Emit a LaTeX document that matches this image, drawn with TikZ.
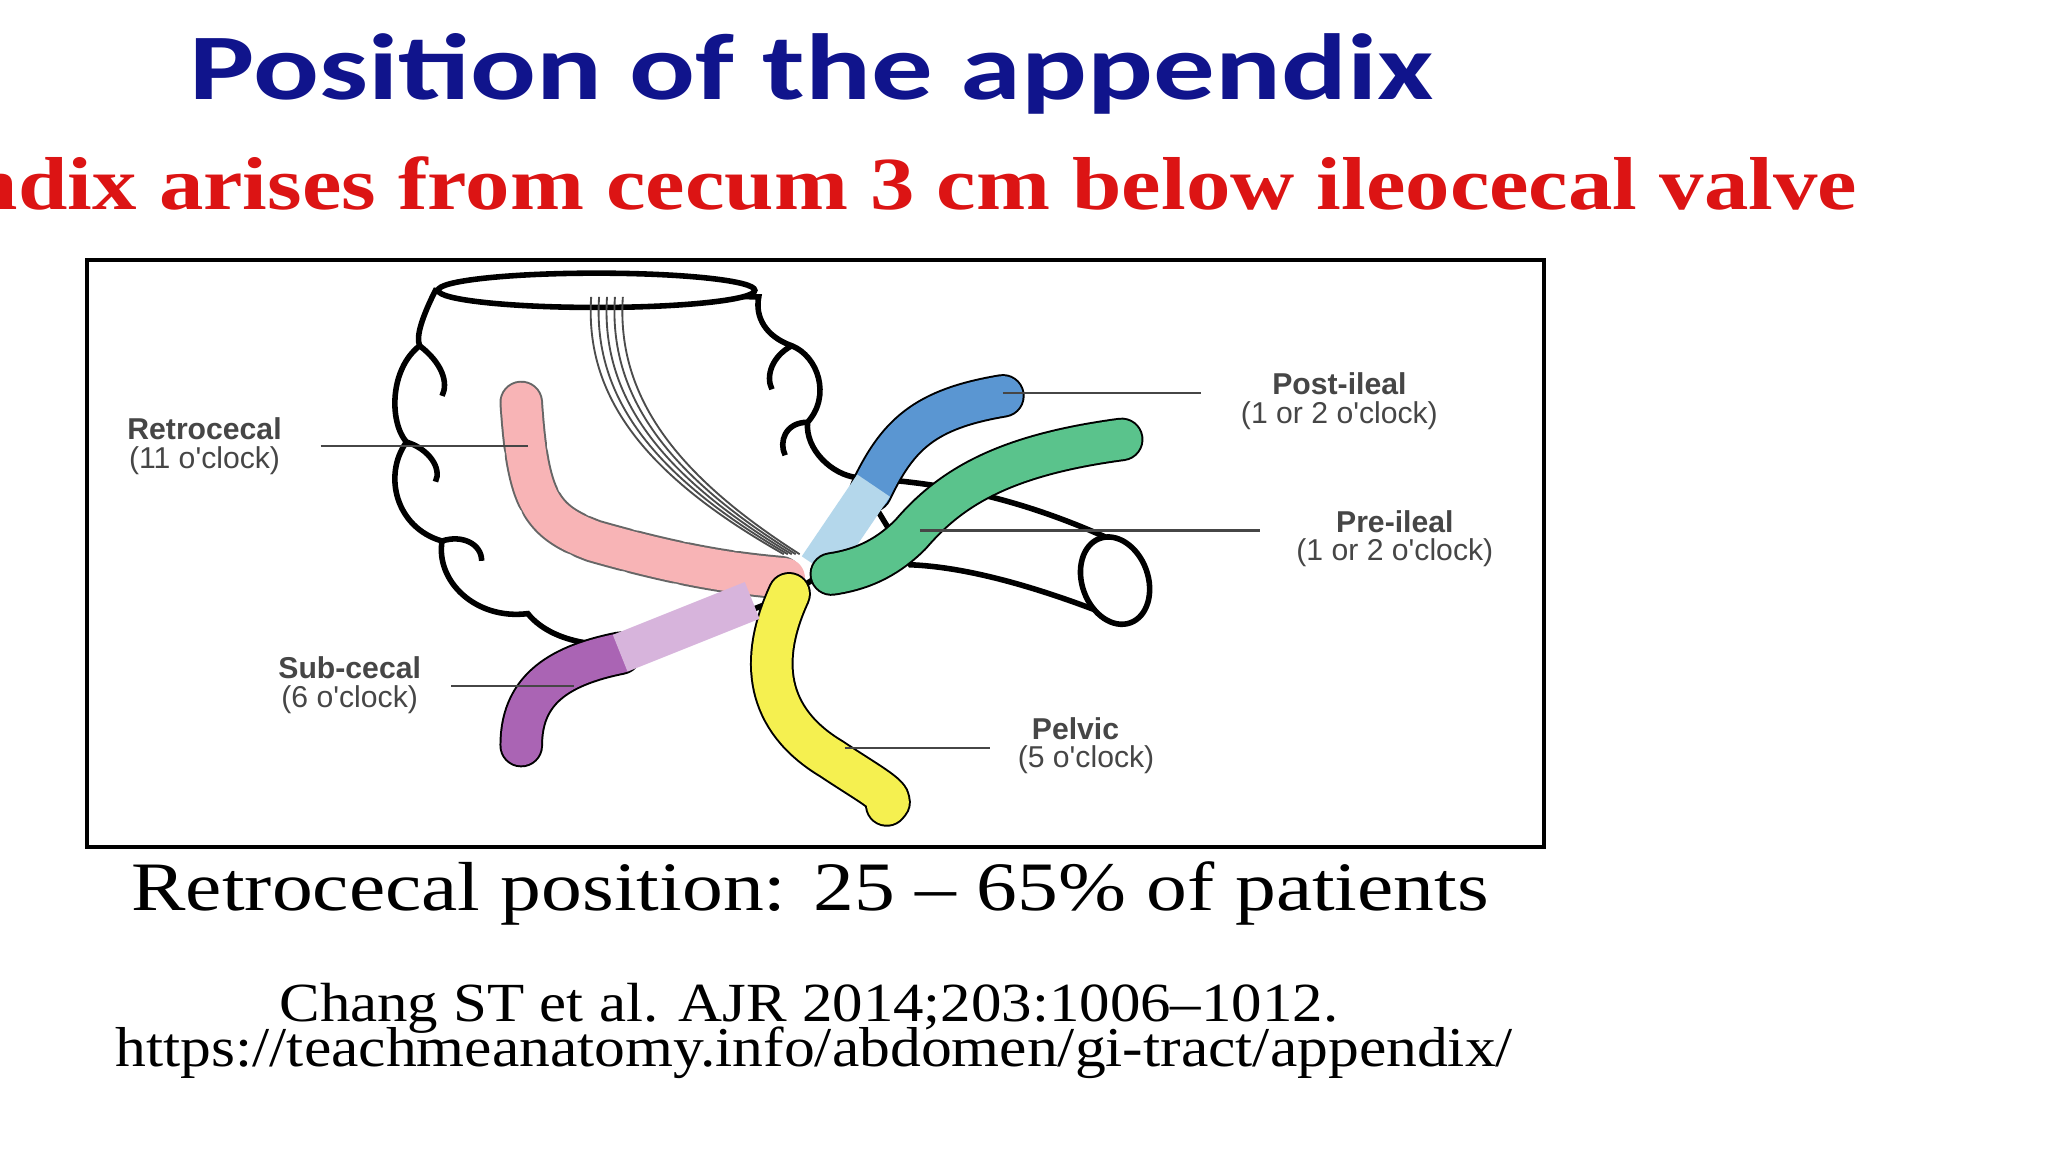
\documentclass[tikz,border=0pt]{standalone}
\usepackage{fontspec}
\setmainfont{Liberation Serif}
\newfontfamily\calib{Carlito}
\newfontfamily\lsans{Liberation Sans}
\definecolor{ttl}{RGB}{16,20,140}
\definecolor{redt}{RGB}{220,20,20}
\definecolor{pinkc}{RGB}{248,180,182}
\definecolor{bluec}{RGB}{90,150,210}
\definecolor{lbluec}{RGB}{180,215,235}
\definecolor{greenc}{RGB}{90,195,140}
\definecolor{yellc}{RGB}{245,240,80}
\definecolor{purpc}{RGB}{170,100,180}
\definecolor{lpurpc}{RGB}{215,180,220}
\definecolor{lab}{RGB}{70,70,70}
\tikzset{
 outl/.style={line width=1.2pt,black},
 tube/.style={line width=30*0.01cm, line cap=round, line join=round},
 lbl/.style={font=\lsans\bfseries\fontsize{6.5}{7}\selectfont, text=lab, inner sep=0},
 lblr/.style={font=\lsans\fontsize{6.5}{7}\selectfont, text=lab, inner sep=0},
 ptr/.style={line width=0.5pt, lab}
}
\begin{document}
\begin{tikzpicture}[x=0.01cm,y=-0.01cm]
\useasboundingbox (0,0) rectangle (1552,873);
\fill[white] (0,0) rectangle (1552,873);
\node[inner sep=0] (title) at (615,56) {\resizebox{9.42cm}{0.5cm}{\calib\bfseries\color{ttl}Position of the appendix}};
\node[inner sep=0,anchor=east] (sub) at (1408,139) {\resizebox{14.3cm}{0.4cm}{\bfseries\color{redt}ndix arises from cecum 3 cm below ileocecal valve}};
\draw[line width=0.8pt] (66,197) rectangle (1170,642);
% ileum
\draw[outl,fill=white] (650,362) .. controls (700,365) and (760,372) .. (840,408) -- (850,470) .. controls (800,450) and (740,430) .. (690,428) -- cycle;
\draw[outl,fill=white] (845,440) ellipse [x radius=25, y radius=34, rotate=20];
% cecum
\draw[outl,fill=white] (330,220) .. controls (320,240) and (315,255) .. (318,262)
 .. controls (295,280) and (295,320) .. (308,335)
 .. controls (290,360) and (300,400) .. (335,410)
 .. controls (330,440) and (360,470) .. (400,465)
 .. controls (420,490) and (470,495) .. (500,480)
 .. controls (560,470) and (610,450) .. (640,420)
 .. controls (650,400) and (660,380) .. (650,362)
 .. controls (630,360) and (610,340) .. (612,320)
 .. controls (630,300) and (620,270) .. (600,262)
 .. controls (580,255) and (572,240) .. (575,225) -- cycle;
\draw[outl,fill=white] (452,220) ellipse [x radius=120, y radius=13];
\draw[outl] (318,262) .. controls (335,275) and (340,290) .. (335,300);
\draw[outl] (308,335) .. controls (325,340) and (335,355) .. (330,365);
\draw[outl] (335,410) .. controls (350,405) and (365,412) .. (365,425);
\draw[outl] (600,262) .. controls (585,270) and (580,285) .. (585,295);
\draw[outl] (612,320) .. controls (595,320) and (590,335) .. (595,345);
% taenia
\foreach \d in {-12,-6,0,6,12}
 \draw[line width=0.4pt,gray!60!black] (460+\d,225) .. controls (455+\d,300) and (500+\d,360) .. (600+\d/2,420);
% appendices
\draw[tube,black!60,line width=33*0.01cm,dotted] (395,305) .. controls (400,380) and (410,395) .. (450,410) .. controls (520,430) and (560,435) .. (595,438);
\draw[tube,pinkc] (395,305) .. controls (400,380) and (410,395) .. (450,410) .. controls (520,430) and (560,435) .. (595,438);
\draw[tube,black,line width=33*0.01cm] (760,300) .. controls (700,310) and (680,330) .. (660,372);
\draw[tube,bluec] (760,300) .. controls (700,310) and (680,330) .. (660,372);
\draw[tube,lbluec,line cap=butt] (662,368) -- (620,430);
\draw[tube,black,line width=33*0.01cm] (850,333) .. controls (760,345) and (720,370) .. (690,405) .. controls (670,425) and (650,432) .. (630,435);
\draw[tube,greenc] (850,333) .. controls (760,345) and (720,370) .. (690,405) .. controls (670,425) and (650,432) .. (630,435);
\draw[tube,black,line width=33*0.01cm] (598,450) .. controls (575,500) and (580,545) .. (630,575) .. controls (660,595) and (680,605) .. (672,610);
\draw[tube,yellc] (598,450) .. controls (575,500) and (580,545) .. (630,575) .. controls (660,595) and (680,605) .. (672,610);
\draw[tube,black,line width=33*0.01cm] (470,495) .. controls (420,505) and (395,525) .. (395,565);
\draw[tube,purpc] (470,495) .. controls (420,505) and (395,525) .. (395,565);
\draw[tube,lpurpc,line cap=butt] (470,495) -- (570,455);
% labels
\node[lbl] (rc) at (155,325) {Retrocecal};
\node[lblr] (rc2) at (155,349) {(11 o'clock)};
\draw[ptr] (243,338) -- (400,338);
\node[lbl] (pi) at (1015,291) {Post-ileal};
\node[lblr] (pi2) at (1015,315) {(1 or 2 o'clock)};
\draw[ptr] (760,298) -- (910,298);
\node[lbl] (pr) at (1057,395) {Pre-ileal};
\node[lblr] (pr2) at (1057,419) {(1 or 2 o'clock)};
\draw[ptr] (697,402) -- (955,402);
\node[lbl] (sc) at (265,506) {Sub-cecal};
\node[lblr] (sc2) at (265,530) {(6 o'clock)};
\draw[ptr] (342,520) -- (435,520);
\node[lbl] (pe) at (815,552) {Pelvic};
\node[lblr] (pe2) at (823,576) {(5 o'clock)};
\draw[ptr] (640,567) -- (750,567);
% bottom
\node[inner sep=0] (ret) at (614,677) {\resizebox{10.28cm}{0.37cm}{Retrocecal position: 25 -- 65\% of patients}};
\node[inner sep=0] (cit) at (613,764) {\resizebox{8.02cm}{0.29cm}{Chang ST et al. AJR 2014;203:1006--1012.}};
\node[inner sep=0] (url) at (617,798) {\resizebox{10.58cm}{0.3cm}{https://teachmeanatomy.info/abdomen/gi-tract/appendix/}};
\end{tikzpicture}
\end{document}
